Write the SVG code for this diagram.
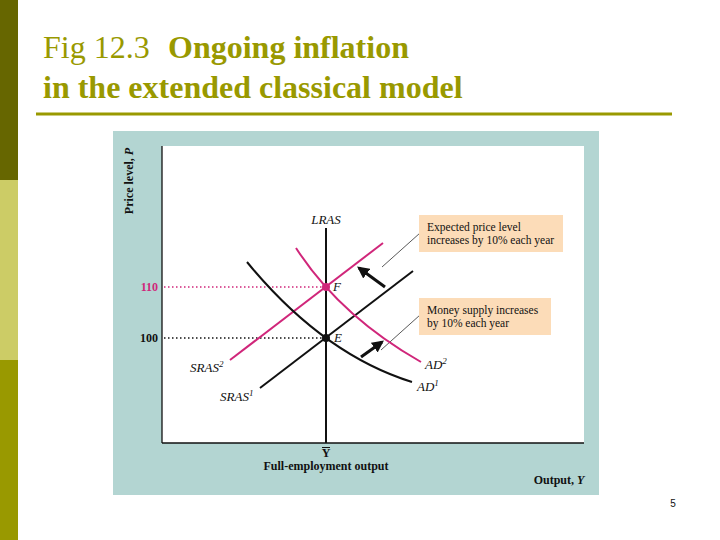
<svg xmlns="http://www.w3.org/2000/svg" width="720" height="540" viewBox="0 0 720 540">
<defs>
<style>
.title{font-family:"Liberation Serif",serif;fill:#999900;font-size:32px}
.lab{font-family:"Liberation Serif",serif;font-size:12px;fill:#111}
.note{font-family:"Liberation Serif",serif;font-size:11.5px;fill:#111}
.cv{font-family:"Liberation Serif",serif;font-size:13px;fill:#111;font-style:italic}
.it{font-style:italic}
.b{font-weight:bold}
.box{fill:#fcdcb8}
.k{fill:none;stroke:#111;stroke-width:2}
.m{fill:none;stroke:#d0267a;stroke-width:2}
.lead{fill:none;stroke:#111;stroke-width:0.7}
.arr{fill:none;stroke:#111;stroke-width:3}
</style>
<marker id="ah" viewBox="0 0 10 10" refX="8" refY="5" markerWidth="4" markerHeight="4" orient="auto" markerUnits="strokeWidth">
<path d="M0,0 L10,5 L0,10 z" fill="#111"/>
</marker>
</defs>
<rect x="0" y="0" width="720" height="540" fill="#fff"/>
<rect x="0" y="0" width="18" height="180" fill="#666600"/>
<rect x="0" y="180" width="18" height="180" fill="#cccc66"/>
<rect x="0" y="360" width="18" height="180" fill="#999900"/>
<text class="title" x="43" y="58">Fig 12.3 <tspan class="b" x="168">Ongoing inflation</tspan></text>
<text class="title b" x="43" y="98">in the extended classical model</text>
<rect x="36" y="112.5" width="636" height="3" fill="#999900"/>
<text x="673" y="507" font-family="Liberation Sans,sans-serif" font-size="10" fill="#111" text-anchor="middle">5</text>

<g id="panel">
<rect x="113" y="131" width="486" height="364" fill="#b3d5d2"/>
<rect x="162" y="146" width="422" height="297" fill="#fff"/>
</g>
<g id="axes">
<line x1="162" y1="146" x2="162" y2="443" stroke="#111" stroke-width="1.3"/>
<line x1="162" y1="443" x2="584" y2="443" stroke="#111" stroke-width="1.3"/>
<text class="lab b" transform="translate(133,181) rotate(-90)" text-anchor="middle">Price level, <tspan class="it">P</tspan></text>
<text class="lab b" x="559" y="484" text-anchor="middle">Output, <tspan class="it">Y</tspan></text>
<text class="lab b" x="326" y="470" text-anchor="middle">Full-employment output</text>
<text class="lab b" x="326" y="457" text-anchor="middle" font-size="11">Y</text>
<line x1="322" y1="447.5" x2="330" y2="447.5" stroke="#111" stroke-width="1"/>
<text class="lab b" x="158" y="291" text-anchor="end" style="fill:#d0267a">110</text>
<text class="lab b" x="158" y="342" text-anchor="end">100</text>
</g>
<g id="connectors">
<line x1="164" y1="287" x2="324" y2="287" stroke="#d0267a" stroke-width="1.3" stroke-dasharray="1.5,2.5"/>
<line x1="164" y1="338" x2="324" y2="338" stroke="#111" stroke-width="1.3" stroke-dasharray="1.5,2.5"/>
<line class="lead" x1="420" y1="233" x2="382" y2="267"/>
<line class="lead" x1="420" y1="315" x2="381" y2="350"/>
<line class="arr" x1="385" y1="287" x2="359" y2="268" marker-end="url(#ah)"/>
<line class="arr" x1="361" y1="357" x2="382" y2="342" marker-end="url(#ah)"/>
</g>
<g id="LRAS">
<line class="k" x1="326" y1="228" x2="326" y2="443"/>
<text class="cv" x="326" y="224" text-anchor="middle">LRAS</text>
</g>
<g id="SRAS1">
<line class="k" x1="260" y1="388" x2="413" y2="271"/>
<text class="cv" x="220" y="401">SRAS<tspan font-size="9" dy="-5">1</tspan></text>
</g>
<g id="SRAS2">
<line class="m" x1="230" y1="360" x2="383" y2="243"/>
<text class="cv" x="190" y="372">SRAS<tspan font-size="9" dy="-5">2</tspan></text>
</g>
<g id="AD1">
<path class="k" d="M247,262 Q322.5,354 412,382"/>
<text class="cv" x="417" y="391">AD<tspan font-size="9" dy="-5">1</tspan></text>
</g>
<g id="AD2">
<path class="m" d="M296,248 Q340,316 421,362"/>
<text class="cv" x="425" y="369">AD<tspan font-size="9" dy="-5">2</tspan></text>
</g>
<g id="F">
<circle cx="326" cy="287" r="4" fill="#d0267a"/>
<text class="cv" x="333" y="291">F</text>
</g>
<g id="E">
<circle cx="326" cy="338" r="4" fill="#111"/>
<text class="cv" x="334" y="342">E</text>
</g>
<g id="note1">
<rect class="box" x="419" y="215" width="144" height="37"/>
<text class="note" x="427" y="231">Expected price level</text>
<text class="note" x="427" y="244">increases by 10% each year</text>
</g>
<g id="note2">
<rect class="box" x="419" y="298" width="132" height="37"/>
<text class="note" x="427" y="314">Money supply increases</text>
<text class="note" x="427" y="327">by 10% each year</text>
</g>
</svg>
